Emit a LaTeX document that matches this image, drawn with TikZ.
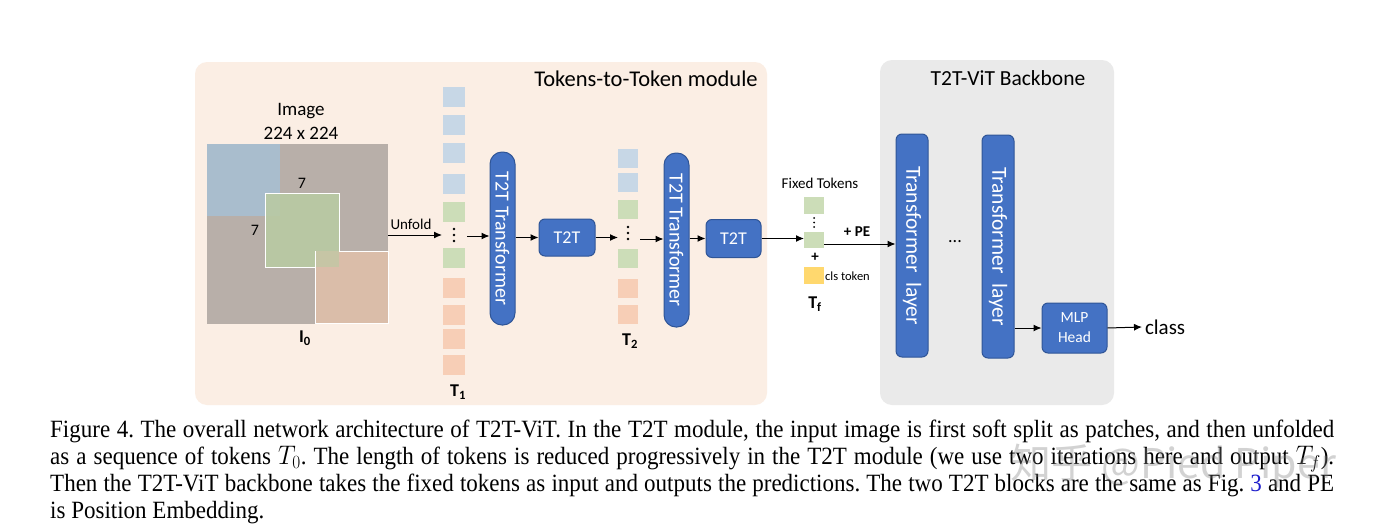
\documentclass[tikz,border=0pt]{standalone}
\usepackage{graphicx}
\usepackage{fontspec}
\setmainfont{Liberation Serif}
\newfontfamily\diafont{Carlito}
\newfontfamily\cjkfont{Noto Sans CJK SC}
\usetikzlibrary{arrows.meta}
\definecolor{modbg}{HTML}{FBEEE4}
\definecolor{bbbg}{HTML}{EAEAEA}
\definecolor{imggray}{HTML}{B8AFA9}
\definecolor{imgblue}{HTML}{A9BDCD}
\definecolor{imggreen}{HTML}{B9CAA3}
\definecolor{imgpeach}{HTML}{DABDA9}
\definecolor{tokblue}{HTML}{C7D7E6}
\definecolor{tokgreen}{HTML}{CCDDB8}
\definecolor{tokpeach}{HTML}{F7CEB6}
\definecolor{clsyellow}{HTML}{FFD86E}
\definecolor{blk}{HTML}{4472C4}
\definecolor{blkborder}{HTML}{2F5597}
\definecolor{linkblue}{HTML}{1F1FCC}
\tikzset{
  tokbox/.style={minimum width=22pt, minimum height=20pt, inner sep=0pt, outer sep=0pt},
  blkbox/.style={fill=blk, draw=blkborder, line width=1pt, text=white, inner sep=0pt, font=\diafont\fontsize{18}{20}\selectfont},
  pill/.style={blkbox, rounded corners=12pt},
  sqbox/.style={blkbox, rounded corners=6pt},
  arr/.style={-{Latex[length=8pt,width=7pt]}, line width=1pt},
  lbl/.style={inner sep=0pt, font=\diafont\fontsize{#1}{#1}\selectfont},
  capline/.style={anchor=base west, inner sep=0pt, font=\fontsize{23}{27}\selectfont},
  vdot/.style={fill=black}
}
\frenchspacing
\begin{document}
\begin{tikzpicture}[x=1pt,y=-1pt]
\useasboundingbox (0,0) rectangle (1376,530);
\fill[white] (0,0) rectangle (1376,530);
% module backgrounds
\fill[modbg, rounded corners=12pt] (195,62) rectangle (767,405);
\fill[bbbg, rounded corners=12pt] (880,60) rectangle (1114,405);
\node[lbl=22.5] (modtitle) at (646,79) {Tokens-to-Token module};
\node[lbl=21.5] (bbtitle) at (1008,78) {T2T-ViT Backbone};

% image
\node[fill=imggray, minimum width=181pt, minimum height=180pt, inner sep=0pt] (img) at (297.5,233.5) {};
\fill[imgblue] (207,143.5) rectangle (280,215.5);
\draw[white, line width=0.8pt, fill=imggreen, fill opacity=0.9] (265,193) rectangle (339,267);
\draw[white, line width=0.8pt, fill=imgpeach] (315.5,251) rectangle (388,323.5);
\fill[imggreen!60!imgpeach] (315.5,251) rectangle (339,267);
\node[lbl=19] (imgt1) at (301,111) {Image};
\node[lbl=19] (imgt2) at (301,133) {224 x 224};
\node[lbl=16] (seven1) at (302,183) {7};
\node[lbl=16] (seven2) at (255,230) {7};
\node[lbl=18] (I0) at (305,338) {\textbf{I}\textsubscript{\textbf{0}}};

% T1 tokens
\node[tokbox, fill=tokblue] (a1) at (454,97) {};
\node[tokbox, fill=tokblue] (a2) at (454,125) {};
\node[tokbox, fill=tokblue] (a3) at (454,153) {};
\node[tokbox, fill=tokblue] (a4) at (454,183.5) {};
\node[tokbox, fill=tokgreen] (a5) at (454,212) {};
\foreach \yy in {229,235,241} \fill[vdot] (454,\yy) circle (1.4pt);
\node[tokbox, fill=tokgreen] (a6) at (454,257.5) {};
\node[tokbox, fill=tokpeach] (a7) at (454,287.5) {};
\node[tokbox, fill=tokpeach] (a8) at (454,314.5) {};
\node[tokbox, fill=tokpeach] (a9) at (454,338.5) {};
\node[tokbox, fill=tokpeach] (a10) at (454,364.5) {};
\node[lbl=18] (T1) at (458,392) {\textbf{T}\textsubscript{\textbf{1}}};

% unfold arrow
\coordinate (u1) at (442,235);
\draw[arr] (img.east |- u1) -- (u1);
\node[lbl=15] (unf) at (411,224) {Unfold};

% first T2T transformer
\node[pill, minimum width=25pt, minimum height=173pt] (p1) at (502.5,238.5) {};
\node[rotate=-90, text=white, lbl=20] (p1t) at (p1.center) {T2T Transformer};
\coordinate (d1e) at (467,236);
\draw[arr] (d1e) -- (p1.west |- d1e);
\node[sqbox, minimum width=56pt, minimum height=37pt] (b1) at (567,237.5) {T2T};
\draw[arr] (p1.east |- b1) -- (b1.west);

% T2 tokens
\node[tokbox, minimum width=20pt, minimum height=19pt, fill=tokblue] (c1) at (628,158.5) {};
\node[tokbox, minimum width=20pt, minimum height=19pt, fill=tokblue] (c2) at (628,182.5) {};
\node[tokbox, minimum width=20pt, minimum height=19pt, fill=tokgreen] (c3) at (628,209) {};
\foreach \yy in {227,233,239} \fill[vdot] (628,\yy) circle (1.4pt);
\node[tokbox, minimum width=20pt, minimum height=19pt, fill=tokgreen] (c4) at (628,258) {};
\node[tokbox, minimum width=20pt, minimum height=19pt, fill=tokpeach] (c5) at (628,288) {};
\node[tokbox, minimum width=20pt, minimum height=19pt, fill=tokpeach] (c6) at (628,314.5) {};
\node[lbl=18] (T2) at (630,341) {\textbf{T}\textsubscript{\textbf{2}}};
\draw[arr] (b1.east) -- (b1.east -| c1.west);

% second T2T transformer
\node[pill, minimum width=25pt, minimum height=174pt] (p2) at (676.5,240) {};
\node[rotate=-90, text=white, lbl=20] (p2t) at (p2.center) {T2T Transformer};
\coordinate (d2e) at (640,239);
\draw[arr] (d2e) -- (p2.west |- d2e);
\node[sqbox, minimum width=55pt, minimum height=38pt] (b2) at (733.5,238.5) {T2T};
\draw[arr] (p2.east |- b2) -- (b2.west);

% fixed tokens
\node[lbl=15] (fixt) at (820,183) {Fixed Tokens};
\node[tokbox, minimum width=20pt, minimum height=17pt, fill=tokgreen] (f1) at (814,205.5) {};
\foreach \yy in {218,222.5,227} \fill[vdot] (814,\yy) circle (1pt);
\node[tokbox, minimum width=20pt, minimum height=16pt, fill=tokgreen] (f2) at (814,240) {};
\node[lbl=15] (fplus) at (815,257) {\textbf{+}};
\node[tokbox, minimum width=20pt, minimum height=17pt, fill=clsyellow] (cls) at (814,275.5) {};
\node[lbl=12.5, anchor=west] (clst) at (825,276) {cls token};
\node[lbl=18] (Tf) at (815,304) {\textbf{T}\textsubscript{\textbf{f}}};
\draw[arr] (b2.east) -- (b2.east -| f2.west);

% backbone
\node[sqbox, minimum width=32pt, minimum height=223pt] (L1) at (912,245.5) {};
\node[rotate=-90, text=white, lbl=21.5] (L1t) at (L1.center) {Transformer\ \ layer};
\node[sqbox, minimum width=32pt, minimum height=223pt] (L2) at (998,246.5) {};
\node[rotate=-90, text=white, lbl=21.5] (L2t) at (L2.center) {Transformer\ \ layer};
\node[lbl=18] (dots) at (955,242) {...};
\node[sqbox, minimum width=65pt, minimum height=50pt, align=center, font=\diafont\fontsize{15.5}{20}\selectfont] (mlp) at (1074.5,328) {MLP\\Head};
\node[lbl=21, anchor=west, outer sep=3pt] (cls2) at (1142,327) {class};
\coordinate (fe) at (824,244);
\draw[arr] (fe) -- (L1.west |- fe);
\node[lbl=15] (pe) at (857,232) {\textbf{+ PE}};
\draw[arr] (L2.east |- mlp) -- (mlp.west);
\draw[arr] (mlp.east) -- (cls2.west);

% caption
\node[capline] (cap1) at (50,437) {\scalebox{1}[1.08]{\makebox[1284pt][s]{Figure 4. The overall network architecture of T2T-ViT. In the T2T module, the input image is first soft split as patches, and then unfolded}}};
\node[capline] (cap2) at (50,464) {\scalebox{1}[1.08]{\makebox[1284pt][s]{as a sequence of tokens $T_0$. The length of tokens is reduced progressively in the T2T module (we use two iterations here and output $T_f$).}}};
\node[capline] (cap3) at (50,491) {\scalebox{1}[1.08]{\makebox[1284pt][s]{Then the T2T-ViT backbone takes the fixed tokens as input and outputs the predictions. The two T2T blocks are the same as Fig. \textcolor{linkblue}{3} and PE}}};
\node[capline] (cap4) at (50,518) {\scalebox{1}[1.08]{is Position Embedding.}};

% watermark
\node[inner sep=0pt, text=gray, opacity=0.35, font=\cjkfont\fontsize{41}{41}\selectfont, anchor=west] (wm) at (1010,466) {知乎 @Pied Piper};
\end{tikzpicture}
\end{document}
